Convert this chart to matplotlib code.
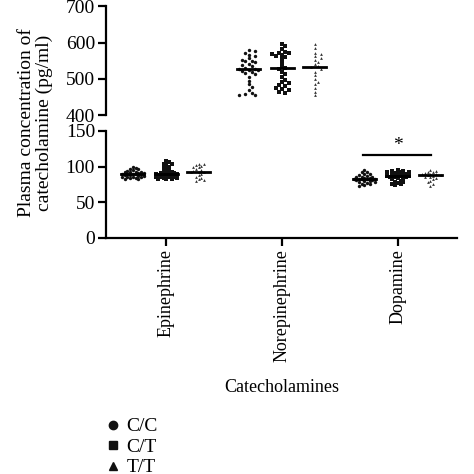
import numpy as np
import matplotlib
matplotlib.use('Agg')
import matplotlib.pyplot as plt
from matplotlib.lines import Line2D

plt.rcParams['font.family'] = ['Liberation Serif', 'DejaVu Serif']

categories = ['Epinephrine', 'Norepinephrine', 'Dopamine']
genotypes = ['C/C', 'C/T', 'T/T']

# readings per catecholamine, per genotype (pg/ml)
epi_cc = [100, 98, 97, 96, 95, 94, 93, 93, 92, 92, 91, 91, 90, 90, 90, 89, 89, 88, 88, 87, 87, 86, 86, 85, 85, 84, 84, 83, 82]
epi_ct = [108, 106, 104, 103, 102, 100, 99, 97, 95, 94, 93, 92, 91, 91, 90, 90, 89, 89, 88, 88, 87, 86, 86, 85, 85, 84, 84, 83, 82, 82]
epi_tt = [104, 103, 102, 101, 100, 99, 97, 95, 94, 93, 93, 92, 90, 88, 86, 84, 82, 81, 80]
ne_cc = [580, 576, 572, 566, 562, 556, 553, 550, 548, 545, 542, 538, 534, 530, 528, 526, 525, 523, 521, 519, 516, 512, 505, 495, 485, 478, 470, 462, 458, 455, 456]
ne_ct = [597, 590, 582, 575, 572, 570, 568, 566, 563, 560, 555, 545, 535, 530, 528, 520, 512, 505, 498, 492, 488, 484, 480, 476, 472, 468, 465, 462]
ne_tt = [595, 585, 572, 568, 562, 558, 552, 545, 540, 535, 532, 528, 520, 510, 500, 492, 485, 475, 465, 455]
da_cc = [95, 93, 92, 90, 89, 88, 87, 86, 85, 85, 84, 84, 83, 83, 83, 82, 82, 81, 81, 80, 80, 79, 78, 77, 76, 75, 74, 73]
da_ct = [95, 94, 94, 93, 93, 92, 91, 90, 89, 88, 88, 87, 87, 87, 86, 86, 85, 84, 83, 82, 80, 79, 78, 77, 76, 75, 74]
da_tt = [95, 94, 93, 92, 91, 90, 89, 89, 88, 88, 87, 86, 85, 84, 82, 80, 78, 76, 73]

groups = {
    'Epinephrine': [epi_cc, epi_ct, epi_tt],
    'Norepinephrine': [ne_cc, ne_ct, ne_tt],
    'Dopamine': [da_cc, da_ct, da_tt],
}
sig_value = 116

fig = plt.figure(figsize=(4.74, 4.74), dpi=100)
ax_lo = fig.add_axes([0.224, 0.498, 0.74, 0.226])
ax_hi = fig.add_axes([0.224, 0.757, 0.74, 0.230])

xlim = (-0.52, 2.51)
ax_lo.set_xlim(*xlim)
ax_hi.set_xlim(*xlim)
ax_lo.set_ylim(0, 150)
ax_hi.set_ylim(400, 700)

fs = 14
for ax in (ax_lo, ax_hi):
    ax.spines['top'].set_visible(False)
    ax.spines['right'].set_visible(False)
    ax.spines['left'].set_linewidth(1.6)
    ax.spines['bottom'].set_linewidth(1.6)
    ax.tick_params(axis='both', width=1.6, length=6, labelsize=fs, pad=2)
    ax.set_facecolor('none')

ax_hi.spines['bottom'].set_visible(False)
ax_hi.set_xticks([])
ax_hi.set_yticks([400, 500, 600, 700])
ax_lo.set_yticks([0, 50, 100, 150])
ax_lo.set_xticks(range(len(categories)))
ax_lo.set_xticklabels(categories, rotation=90, fontsize=13)
ax_lo.set_xlabel('Catecholamines', fontsize=13, labelpad=12)

fig.text(0.074, 1 - 123 / 474, 'Plasma concentration of\ncatecholamine (pg/ml)',
         rotation=90, ha='center', va='center', fontsize=14, linespacing=1.05)


def swarm(ax, values, center, dot_px, max_px):
    # simple beeswarm in pixel space, capped width
    fig.canvas.draw()
    trans = ax.transData
    pts = []
    xs = []
    for v in values:
        px, py = trans.transform((center, v))
        offs = [0]
        k = 1
        while k * dot_px * 0.9 <= max_px:
            offs += [k * dot_px * 0.9, -k * dot_px * 0.9]
            k += 1
        best, best_d = 0, -1
        for o in offs:
            d = min([((px + o - qx) ** 2 + (py - qy) ** 2) ** 0.5 for qx, qy in pts] or [99])
            if d >= dot_px:
                best = o
                break
            if d > best_d:
                best, best_d = o, d
        pts.append((px + best, py))
        xs.append(trans.inverted().transform((px + best, py))[0])
    return xs


offsets = [-0.29, 0.0, 0.28]
markers = ['o', 's', '^']
sizes = [6, 6, 4]
colors = ['#111111', '#111111', '#333333']

for i, cat in enumerate(categories):
    ax = ax_hi if cat == 'Norepinephrine' else ax_lo
    for j, vals in enumerate(groups[cat]):
        c = i + offsets[j]
        if ax is ax_hi:
            xs = swarm(ax, vals, c, 3.6, 12)
        else:
            xs = swarm(ax, vals, c, 3.0, 12)
        ax.scatter(xs, vals, s=sizes[j], marker=markers[j], color=colors[j],
                   linewidths=0, zorder=3, clip_on=False)
        med = np.median(vals)
        ax.plot([c - 0.1, c + 0.1], [med, med], color='black', lw=2, zorder=4)

# significance bar over dopamine
ax_lo.plot([2 - 0.3, 2 + 0.29], [sig_value, sig_value], color='black', lw=1.6)
ax_lo.text(2, sig_value + 1, '*', ha='center', va='bottom', fontsize=14)

handles = [Line2D([], [], marker=m, color='#111111', ls='none', markersize=6)
           for m in markers]
fig.legend(handles, genotypes, loc='upper left', bbox_to_anchor=(0.205, 0.135),
           frameon=False, fontsize=14, handlelength=0.8, handletextpad=0.3,
           labelspacing=0.15, borderaxespad=0)

fig.savefig('out.png', dpi=100)
